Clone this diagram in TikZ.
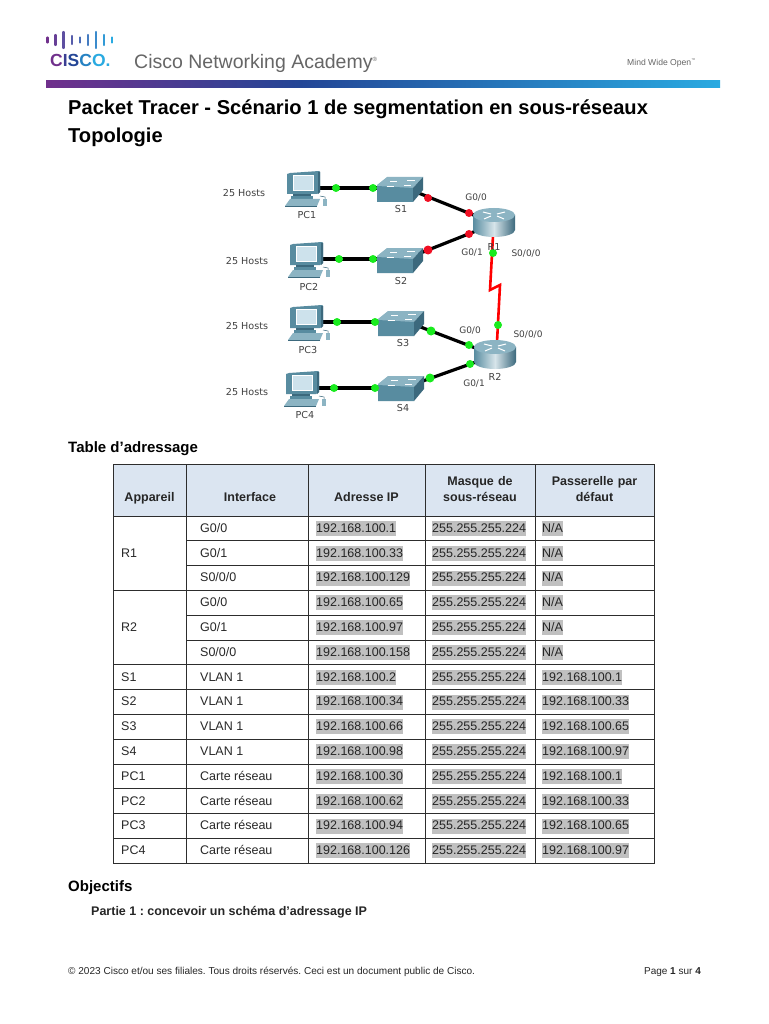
\documentclass[tikz,border=0pt]{standalone}
\usepackage{fontspec}
\setmainfont{Liberation Sans}
\newfontfamily\labelfont{DejaVu Sans}
\usetikzlibrary{calc}
\pgfdeclarelayer{back}
\pgfsetlayers{back,main}
\frenchspacing
\definecolor{cpurple}{RGB}{112,48,140}
\definecolor{cblue}{RGB}{36,70,150}
\definecolor{ccyan}{RGB}{41,170,225}
\definecolor{hdrblue}{RGB}{219,229,241}
\definecolor{hlgray}{RGB}{192,192,192}
\definecolor{gridc}{RGB}{45,45,45}
\definecolor{txtc}{RGB}{40,40,40}
\definecolor{dotg}{RGB}{25,235,30}
\definecolor{dotr}{RGB}{240,15,35}
\definecolor{tealA}{RGB}{88,140,160}
\definecolor{tealB}{RGB}{140,180,195}
\definecolor{tealC}{RGB}{60,105,125}
\definecolor{scr}{RGB}{205,226,236}
\newcommand{\fs}[1]{\fontsize{#1}{#1}\selectfont}
\tikzset{
  x=1pt,y=-1pt,
  port/.style={circle,inner sep=0pt,minimum size=8pt,fill=#1,draw=none},
  link/.style={line width=3.2pt,draw=black},
  serial/.style={line width=2.6pt,draw=red,line join=miter},
  netlab/.style={font=\labelfont\fs{9.6},text=black!75,inner sep=0pt},
  cellt/.style={anchor=west,inner xsep=0pt,inner ysep=0pt,text=txtc,font=\fs{12.5},text height=11.3,text depth=3.7},
  cellh/.style={cellt,fill=hlgray,text=black!85},
  headt/.style={inner sep=0pt,font=\bfseries\fs{12.5},text=black!85,align=center},
  bar/.style={line width=2.3pt,line cap=round},
  pcicon/.pic={
    \fill[tealA] (-33,-14) -- (-30,-15) -- (-1,-17) -- (0,-16) -- (0,4) -- (-3,6) -- (-33,6) -- cycle;
    \fill[tealC] (-2,-16) -- (0,-16) -- (0,4) -- (-2,6) -- cycle;
    \fill[scr,draw=white,line width=.5pt] (-27,-13) rectangle (-7,2);
    \fill[tealC] (-27,6) rectangle (-9,8);
    \fill[tealA] (-29,8) rectangle (-7,11);
    \fill[tealB] (-30,11) -- (0,11) -- (-3,18) -- (-35,18) -- cycle;
    \fill[tealC] (-35,18) rectangle (-3,19);
    \fill[tealB] (3,11) rectangle (7,18);
    \draw[tealC,line width=.5pt] (0,8) -- (5,9) -- (5,11);
  },
  swicon/.pic={
    \fill[tealB] (0,-8) -- (10,-16) -- (46,-16) -- (36,-5) -- (0,-5) -- cycle;
    \fill[tealA] (0,-7) -- (36,-5) -- (36,9) -- (0,9) -- cycle;
    \fill[tealC] (36,-5) -- (46,-16) -- (46,-3) -- (36,9) -- cycle;
    \draw[white,line width=.7pt] (10,-7) -- (17,-7) (27,-8) -- (34,-8) (13,-12) -- (20,-12) (30,-13) -- (38,-13);
  },
  rticon/.pic={
    \shade[left color=tealA,right color=tealC,middle color=tealB!35] (-21,-8) -- (-21,7) arc[start angle=180,end angle=0,x radius=21,y radius=7] -- (21,-8) -- cycle;
    \fill[tealB] (0,-8) ellipse[x radius=21,y radius=7];
    \draw[white,line width=1pt] (-11,-11) -- (-3,-9) (11,-11) -- (3,-9) (-10,-4) -- (-3,-7) (10,-4) -- (3,-7);
  },
}
\newcommand{\TRow}[6]{%
  \node[cellt] (if#1) at (200,#2) {#3};
  \node[cellh] (ip#1) at (316,#2) {#4};
  \node[cellh] (ma#1) at (432,#2) {255.255.255.224};
  \node[cellh] (gw#1) at (542,#2) {#5};
  #6%
}
\begin{document}
\begin{tikzpicture}
\useasboundingbox (0,0) rectangle (768,1024);
\begin{pgfonlayer}{back}
\fill[white] (0,0) rectangle (768,1024);
\end{pgfonlayer}

% ---- Header
\foreach \bx/\h/\c in {47.5/2.5/0,55.5/5/12,63.5/8/25,72/4/37,80/2.5/50,88/5/62,96/8/75,104/5/87,112/2.5/100}{
  \draw[bar,draw=ccyan!\c!cpurple] (\bx,40-\h) -- (\bx,40+\h);
}
\node[anchor=base west,inner sep=0pt,font=\bfseries\fs{17.5}] (ciscologo) at (50,67)
  {\addfontfeature{LetterSpace=3}\textcolor{cpurple}{C}\textcolor{cblue!70!cpurple}{I}\textcolor{cblue}{S}\textcolor{cblue!40!ccyan}{C}\textcolor{ccyan}{O}\textcolor{ccyan}{.}};
\node[anchor=base west,inner sep=0pt,font=\fs{19.5},text=black!60] (cna) at (134,69) {Cisco Networking Academy\raisebox{7pt}{\fs{6}®}};
\node[anchor=base west,inner sep=0pt,font=\fs{8.6},text=black!60] (mwo) at (627,66) {Mind Wide Open\raisebox{4pt}{\fs{4}™}};
\shade[left color=cpurple,right color=cblue] (46,81) rectangle (300,88);
\shade[left color=cblue,right color=ccyan] (300,81) rectangle (720,88);
\node[anchor=base west,inner sep=0pt,font=\bfseries\fs{20.1}] (title) at (68,115) {Packet Tracer - Scénario 1 de segmentation en sous-réseaux};
\node[anchor=base west,inner sep=0pt,font=\bfseries\fs{20.1}] (topo) at (68,143) {Topologie};

% ---- Topology: ports of the devices
\coordinate (PC1) at (320,188);
\coordinate (PC2) at (323,259);
\coordinate (PC3) at (323,322);
\coordinate (PC4) at (319,388);
\coordinate (S1w) at (378,188);
\coordinate (S2w) at (378,259);
\coordinate (S3w) at (380,322);
\coordinate (S4w) at (380,388);
\coordinate (S1e) at (416,192);
\coordinate (S2e) at (418,254);
\coordinate (S3e) at (418,326);
\coordinate (S4e) at (420,382);
\coordinate (R1a) at (476,216);
\coordinate (R1b) at (476,231);
\coordinate (R1s) at (493,236);
\coordinate (R2a) at (478,349);
\coordinate (R2b) at (476,362);
\coordinate (R2s) at (497,342);
\coordinate (za) at (490,290);
\coordinate (zb) at (500,285);

% device icons
\pic at (PC1) {pcicon};
\pic at (PC2) {pcicon};
\pic at (PC3) {pcicon};
\pic at (PC4) {pcicon};
\pic at (377,193) {swicon};
\pic at (377,264) {swicon};
\pic at (378,327) {swicon};
\pic at (378,392) {swicon};
\pic at (494,223) {rticon};
\pic at (495,355) {rticon};

% port lights
\node[port=dotg] (d1a) at (336,188) {};
\node[port=dotg] (d1b) at (373,188) {};
\node[port=dotg] (d2a) at (339,259) {};
\node[port=dotg] (d2b) at (373,259) {};
\node[port=dotg] (d3a) at (337,322) {};
\node[port=dotg] (d3b) at (375,322) {};
\node[port=dotg] (d4a) at (334,388) {};
\node[port=dotg] (d4b) at (375,388) {};
\node[port=dotr] (r1a) at (428,198) {};
\node[port=dotr] (r1b) at (469,213) {};
\node[port=dotr,minimum size=9pt] (r2a) at (428,250) {};
\node[port=dotr] (r2b) at (469,234) {};
\node[port=dotg,minimum size=9pt] (r3a) at (431,331) {};
\node[port=dotg] (r3b) at (469,345) {};
\node[port=dotg,minimum size=9pt] (r4a) at (430,378) {};
\node[port=dotg] (r4b) at (470,364) {};
\node[port=dotg] (srt) at (493,253) {};
\node[port=dotg] (srb) at (498,325) {};

% connectors
\begin{pgfonlayer}{back}
\draw[link] (PC1) -- (S1w);
\draw[link] (PC2) -- (S2w);
\draw[link] (PC3) -- (S3w);
\draw[link] (PC4) -- (S4w);
\draw[link] (S1e) -- (R1a);
\draw[link] (S2e) -- (R1b);
\draw[link] (S3e) -- (R2a);
\draw[link] (S4e) -- (R2b);
\draw[serial] (R1s) -- (za) -- (zb) -- (R2s);
\end{pgfonlayer}

% device labels
\node[netlab] (lh1) at (244,193) {25 Hosts};
\node[netlab] (lh2) at (247,261) {25 Hosts};
\node[netlab] (lh3) at (247,326) {25 Hosts};
\node[netlab] (lh4) at (247,392) {25 Hosts};
\node[netlab] (lp1) at (307,215) {PC1};
\node[netlab] (lp2) at (309,287) {PC2};
\node[netlab] (lp3) at (308,350) {PC3};
\node[netlab] (lp4) at (305,415) {PC4};
\node[netlab] (ls1) at (401,209) {S1};
\node[netlab] (ls2) at (401,281) {S2};
\node[netlab] (ls3) at (403,343) {S3};
\node[netlab] (ls4) at (403,408) {S4};
\node[netlab] (lr1) at (494,247) {R1};
\node[netlab] (lr2) at (495,377) {R2};
\node[netlab,font=\labelfont\fs{9}] (lg1) at (476,198) {G0/0};
\node[netlab,font=\labelfont\fs{9}] (lg2) at (472,253) {G0/1};
\node[netlab,font=\labelfont\fs{9}] (lg3) at (470,331) {G0/0};
\node[netlab,font=\labelfont\fs{9}] (lg4) at (474,384) {G0/1};
\node[netlab,font=\labelfont\fs{9}] (ls5) at (526,254) {S0/0/0};
\node[netlab,font=\labelfont\fs{9}] (ls6) at (528,335) {S0/0/0};

% ---- Table
\node[anchor=base west,inner sep=0pt,font=\bfseries\fs{15}] (tabtitle) at (68,452) {Table d’adressage};
\fill[hdrblue] (113,464) rectangle (654,516);
\draw[gridc,line width=.9pt] (113,464) rectangle (654,863);
\draw[gridc,line width=.9pt] (113,516) -- (654,516);
\foreach \cx in {186,308,425,535}{\draw[gridc,line width=.9pt] (\cx,464) -- (\cx,863);}
% row rules: inner ones of R1 and R2 stop at the first column
\foreach \ry in {540.8,565.6,615.2,640}{\draw[gridc,line width=.9pt] (186,\ry) -- (654,\ry);}
\foreach \ry in {590.4,664.8,689.6,714.4,739.2,764,788.8,813.6,838.4}{\draw[gridc,line width=.9pt] (113,\ry) -- (654,\ry);}

\node[headt,anchor=base] (h1) at (149.5,501) {Appareil};
\node[headt,anchor=base] (h2) at (250,501) {Interface};
\node[headt,anchor=base] (h3) at (366.5,501) {Adresse IP};
\node[headt,text width=110] (h4) at (480,489) {Masque de\\[4pt]sous-réseau};
\node[headt,text width=105] (h5) at (594.5,489) {Passerelle par\\[4pt]défaut};

\newcommand{\Dev}[3]{\node[cellt] (dev#1) at (121,#2) {#3};}
\TRow{a}{528.4}{G0/0}{192.168.100.1}{N/A}{}
\TRow{b}{553.2}{G0/1}{192.168.100.33}{N/A}{\Dev{R1}{553.2}{R1}}
\TRow{c}{578}{S0/0/0}{192.168.100.129}{N/A}{}
\TRow{d}{602.8}{G0/0}{192.168.100.65}{N/A}{}
\TRow{e}{627.6}{G0/1}{192.168.100.97}{N/A}{\Dev{R2}{627.6}{R2}}
\TRow{f}{652.4}{S0/0/0}{192.168.100.158}{N/A}{}
\TRow{g}{677.2}{VLAN 1}{192.168.100.2}{192.168.100.1}{\Dev{S1}{677.2}{S1}}
\TRow{h}{702}{VLAN 1}{192.168.100.34}{192.168.100.33}{\Dev{S2}{702}{S2}}
\TRow{i}{726.8}{VLAN 1}{192.168.100.66}{192.168.100.65}{\Dev{S3}{726.8}{S3}}
\TRow{j}{751.6}{VLAN 1}{192.168.100.98}{192.168.100.97}{\Dev{S4}{751.6}{S4}}
\TRow{k}{776.4}{Carte réseau}{192.168.100.30}{192.168.100.1}{\Dev{PC1}{776.4}{PC1}}
\TRow{l}{801.2}{Carte réseau}{192.168.100.62}{192.168.100.33}{\Dev{PC2}{801.2}{PC2}}
\TRow{m}{826}{Carte réseau}{192.168.100.94}{192.168.100.65}{\Dev{PC3}{826}{PC3}}
\TRow{n}{850.8}{Carte réseau}{192.168.100.126}{192.168.100.97}{\Dev{PC4}{850.8}{PC4}}

% ---- Below the table
\node[anchor=base west,inner sep=0pt,font=\bfseries\fs{15}] (obj) at (68,891) {Objectifs};
\node[anchor=base west,inner sep=0pt,font=\bfseries\fs{12.5},text=black!85] (part) at (91,915) {Partie 1 : concevoir un schéma d’adressage IP};
\node[anchor=base west,inner sep=0pt,font=\fs{10.05},text=black!85] (foot) at (68,974) {© 2023 Cisco et/ou ses filiales. Tous droits réservés. Ceci est un document public de Cisco.};
\node[anchor=base east,inner sep=0pt,font=\fs{10},text=black!85] (pg) at (701,974) {Page \textbf{1} sur \textbf{4}};
\end{tikzpicture}
\end{document}
